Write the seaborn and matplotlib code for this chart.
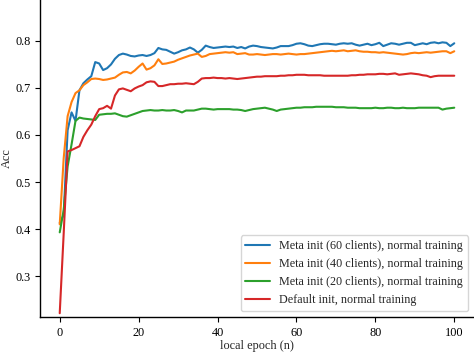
import numpy as np
import pandas as pd
import matplotlib
matplotlib.use("Agg")
import matplotlib.pyplot as plt
import seaborn as sns

epochs = list(range(101))

meta60 = [0.413, 0.43, 0.61, 0.648, 0.63, 0.695, 0.71, 0.718, 0.725, 0.755,
          0.752, 0.738, 0.742, 0.75, 0.762, 0.77, 0.773, 0.771, 0.768, 0.767,
          0.769, 0.77, 0.768, 0.77, 0.774, 0.785, 0.782, 0.781, 0.777, 0.773,
          0.776, 0.78, 0.782, 0.786, 0.782, 0.775, 0.781, 0.79, 0.787, 0.785,
          0.786, 0.787, 0.788, 0.787, 0.788, 0.785, 0.787, 0.784, 0.788, 0.79,
          0.789, 0.787, 0.786, 0.785, 0.784, 0.786, 0.789, 0.789, 0.789, 0.791,
          0.794, 0.795, 0.793, 0.79, 0.789, 0.791, 0.793, 0.794, 0.794, 0.793,
          0.792, 0.794, 0.795, 0.794, 0.795, 0.792, 0.79, 0.792, 0.794, 0.791,
          0.793, 0.796, 0.789, 0.792, 0.795, 0.794, 0.792, 0.794, 0.796, 0.796,
          0.791, 0.793, 0.795, 0.793, 0.796, 0.797, 0.795, 0.797, 0.796, 0.789,
          0.795]

meta40 = [0.41, 0.55, 0.64, 0.67, 0.689, 0.695, 0.706, 0.712, 0.719, 0.72,
          0.719, 0.717, 0.718, 0.72, 0.722, 0.728, 0.733, 0.734, 0.731, 0.737,
          0.745, 0.752, 0.739, 0.742, 0.748, 0.761, 0.751, 0.752, 0.754, 0.756,
          0.76, 0.763, 0.766, 0.769, 0.771, 0.773, 0.766, 0.768, 0.772, 0.773,
          0.774, 0.775, 0.776, 0.775, 0.776, 0.772, 0.773, 0.774, 0.771, 0.771,
          0.772, 0.771, 0.77, 0.771, 0.772, 0.772, 0.771, 0.772, 0.773, 0.772,
          0.771, 0.772, 0.772, 0.773, 0.774, 0.775, 0.776, 0.777, 0.778, 0.779,
          0.778, 0.779, 0.78, 0.778, 0.779, 0.78, 0.778, 0.777, 0.777, 0.776,
          0.776, 0.775, 0.776, 0.775, 0.774, 0.773, 0.772, 0.771, 0.772, 0.774,
          0.775, 0.774, 0.775, 0.776, 0.775, 0.776, 0.777, 0.778, 0.778, 0.774,
          0.778]

meta20 = [0.393, 0.44, 0.533, 0.58, 0.63, 0.637, 0.635, 0.634, 0.633, 0.632,
          0.643, 0.644, 0.645, 0.645, 0.646, 0.643, 0.64, 0.639, 0.642, 0.645,
          0.648, 0.651, 0.652, 0.653, 0.652, 0.652, 0.653, 0.652, 0.652, 0.653,
          0.651, 0.648, 0.652, 0.652, 0.652, 0.654, 0.656, 0.656, 0.655, 0.654,
          0.655, 0.655, 0.655, 0.655, 0.654, 0.654, 0.653, 0.651, 0.653, 0.655,
          0.656, 0.657, 0.658, 0.656, 0.654, 0.651, 0.654, 0.655, 0.656, 0.657,
          0.658, 0.658, 0.659, 0.659, 0.659, 0.66, 0.66, 0.66, 0.66, 0.66,
          0.659, 0.659, 0.659, 0.658, 0.658, 0.658, 0.657, 0.657, 0.657, 0.657,
          0.658, 0.657, 0.657, 0.658, 0.658, 0.657, 0.657, 0.658, 0.657, 0.657,
          0.657, 0.658, 0.658, 0.658, 0.658, 0.658, 0.658, 0.654, 0.656, 0.657,
          0.658]

default_init = [0.221, 0.39, 0.565, 0.568, 0.572, 0.576, 0.596, 0.61, 0.622, 0.64,
                0.655, 0.657, 0.662, 0.656, 0.684, 0.697, 0.699, 0.696, 0.693, 0.699,
                0.703, 0.706, 0.712, 0.714, 0.713, 0.704, 0.704, 0.706, 0.708, 0.708,
                0.709, 0.709, 0.71, 0.709, 0.708, 0.713, 0.72, 0.721, 0.721, 0.722,
                0.721, 0.721, 0.72, 0.721, 0.72, 0.719, 0.72, 0.721, 0.722, 0.723,
                0.724, 0.724, 0.725, 0.725, 0.725, 0.725, 0.726, 0.726, 0.727, 0.727,
                0.728, 0.728, 0.728, 0.727, 0.727, 0.727, 0.727, 0.726, 0.726, 0.726,
                0.726, 0.726, 0.726, 0.726, 0.727, 0.727, 0.728, 0.728, 0.729, 0.729,
                0.729, 0.73, 0.73, 0.729, 0.73, 0.731, 0.728, 0.729, 0.73, 0.731,
                0.73, 0.729, 0.727, 0.726, 0.723, 0.725, 0.726, 0.726, 0.726, 0.726,
                0.726]

labels = ["Meta init (60 clients), normal training",
          "Meta init (40 clients), normal training",
          "Meta init (20 clients), normal training",
          "Default init, normal training"]
series = [meta60, meta40, meta20, default_init]

frames = []
for lab, vals in zip(labels, series):
    frames.append(pd.DataFrame({"epoch": epochs, "acc": vals, "method": lab}))
df = pd.concat(frames, ignore_index=True)

sns.set_style("ticks")
plt.rcParams['font.family'] = ['Liberation Serif', 'DejaVu Serif']
plt.rcParams['font.size'] = 8.8

fig = plt.figure(figsize=(4.74, 3.53), dpi=100)
ax = fig.add_axes([40/474, 36/353, 1 - 40/474, 1 - 36/353])

sns.lineplot(data=df, x="epoch", y="acc", hue="method", hue_order=labels,
             palette=["#1f77b4", "#ff7f0e", "#2ca02c", "#d62728"],
             linewidth=1.5, ax=ax)

ax.set_xlim(-5, 105)
ax.set_ylim(0.213, 0.887)
ax.set_xticks([0, 20, 40, 60, 80, 100])
ax.set_yticks([0.3, 0.4, 0.5, 0.6, 0.7, 0.8])
ax.set_xlabel("local epoch (n)", labelpad=1)
ax.set_ylabel("Acc", labelpad=1.5)
for s in ["top", "right"]:
    ax.spines[s].set_visible(False)
for s in ["left", "bottom"]:
    ax.spines[s].set_color("black")
    ax.spines[s].set_linewidth(1.0)
ax.tick_params(colors="black", labelcolor="black", labelsize=8.8)

leg = ax.legend(loc="lower right", frameon=True, fontsize=8.7)
leg.set_title(None)

fig.savefig("out.png", dpi=100)
